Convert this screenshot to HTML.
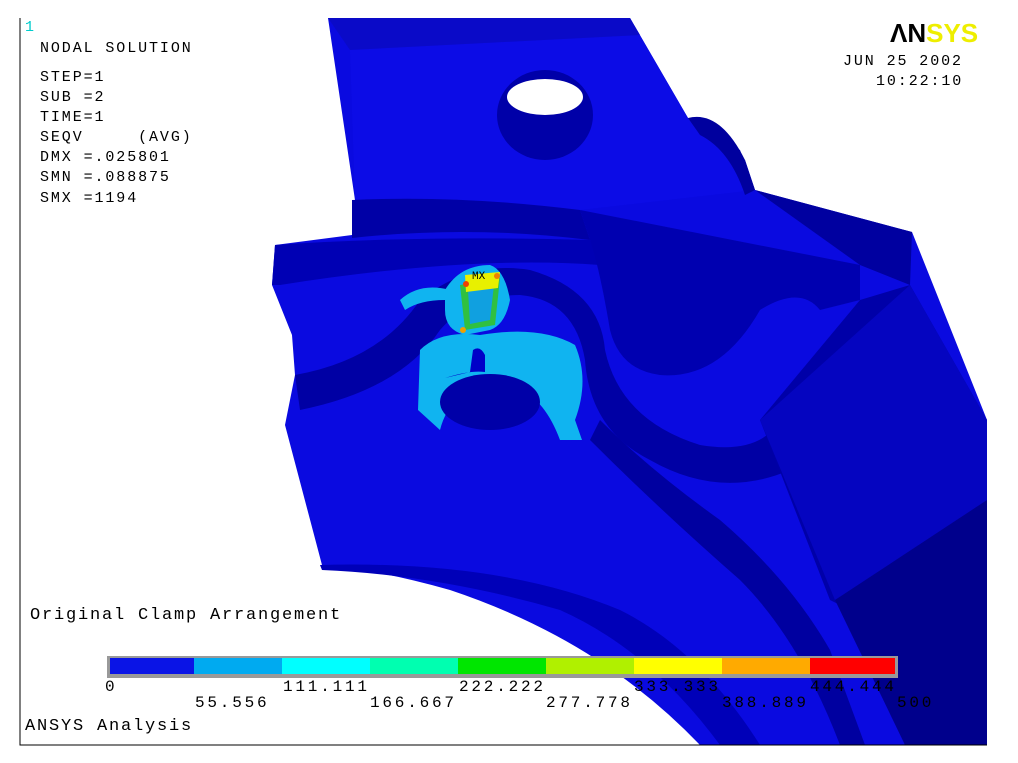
<!DOCTYPE html>
<html><head><meta charset="utf-8"><style>
body{margin:0;background:#fff;width:1018px;height:763px;overflow:hidden;position:relative;font-family:"Liberation Mono",monospace}
svg{position:absolute;left:0;top:0}
.t{position:absolute;font-size:15px;color:#000;white-space:pre;line-height:1;letter-spacing:1.9px}
.l{font-size:16px;letter-spacing:2.8px}
.b{font-size:17px;letter-spacing:1.8px}
</style></head><body>
<svg width="1018" height="763" viewBox="0 0 1018 763">
<rect x="0" y="0" width="1018" height="763" fill="#fff"/>
<path d="M328 18 L630 18 L688 118 L740 150 L755 190 L912 232 L987 420 L987 745 L700 745 Q600 640 450 590 Q380 570 322 565 L285 425 L295 375 L292 335 L272 285 L275 245 L352 235 L355 200 Z" fill="#0a0ae0"/>
<path d="M328 18 L630 18 L688 118 L700 125 L745 160 L755 190 L580 210 L355 200 L350 50 Z" fill="#0c0ce6"/>
<path d="M328 18 L630 18 L640 35 L350 50 Z" fill="#0a0ac8"/>
<ellipse cx="545" cy="115" rx="48" ry="45" fill="#0000a8"/>
<ellipse cx="545" cy="97" rx="38" ry="18" fill="#fff"/>
<path d="M688 118 Q720 110 745 160 L755 190 L745 195 Q730 150 700 135 Z" fill="#00009e"/>
<path d="M352 200 Q460 195 580 210 L590 240 Q470 225 352 238 Z" fill="#0000a6"/>
<path d="M272 285 L275 245 Q420 235 590 240 L600 265 Q470 255 280 285 Z" fill="#0000b4"/>
<path d="M295 375 Q380 360 420 300 Q470 260 530 270 Q600 290 605 350 Q620 420 700 445 Q760 455 780 420 Q790 395 820 370 L860 330 L870 360 L830 400 Q800 440 790 470 Q720 500 650 460 Q590 430 585 360 Q575 300 520 295 Q470 295 440 330 Q400 390 300 410 Z" fill="#0000a4"/>
<path d="M580 210 L860 265 L860 300 L820 310 Q800 285 760 310 Q720 380 660 375 Q620 370 610 330 Q600 270 590 240 Z" fill="#0000b0"/>
<path d="M755 190 L912 232 L910 285 L860 265 Z" fill="#0000a0"/>
<path d="M860 300 L910 285 L987 420 L987 745 L905 745 L850 610 L830 600 L760 420 Z" fill="#0000a8"/>
<path d="M760 420 L910 285 L987 420 L987 520 L835 600 Z" fill="#0505c0"/>
<path d="M835 600 L987 500 L987 745 L905 745 Z" fill="#00008c"/>
<path d="M600 420 Q650 470 720 520 Q790 580 830 650 L865 745 L840 745 Q800 640 740 580 Q660 510 590 440 Z" fill="#0000a0"/>
<path d="M320 565 Q500 560 620 610 Q700 650 760 745 L720 745 Q650 650 560 610 Q440 575 322 570 Z" fill="#0000b8"/>
<path d="M420 350 Q440 330 480 335 Q540 325 575 345 Q590 380 575 420 L582 440 L560 440 Q545 400 520 390 Q490 380 460 395 Q445 410 440 430 L418 410 Z" fill="#10b4f0"/>
<path d="M400 300 Q420 282 450 290 L445 300 Q420 300 405 310 Z" fill="#10b4f0"/>
<ellipse cx="490" cy="402" rx="50" ry="28" fill="#0000a8"/>
<path d="M445 378 Q470 370 485 372 L485 355 Q480 345 473 350 L470 372 Z" fill="#0000c8"/>
<path d="M445 290 Q460 265 490 265 Q505 270 510 300 Q505 325 490 330 L465 335 Q445 330 445 310 Z" fill="#10b4f0"/>
<path d="M460 285 L500 278 L495 325 L465 330 Z" fill="#30c040"/>
<path d="M468 290 L494 285 L490 320 L470 324 Z" fill="#10a0e0"/>
<path d="M465 275 L500 272 L498 288 L466 292 Z" fill="#e8f000"/>
<circle cx="466" cy="284" r="3" fill="#f04000"/><circle cx="497" cy="276" r="3" fill="#f08000"/><circle cx="463" cy="330" r="3" fill="#f0a000"/>
<text x="472" y="279" font-family="Liberation Mono" font-size="11">MX</text>
<path d="M20 18 V745 H987" fill="none" stroke="#000" stroke-width="1"/>
<rect x="107" y="656" width="791" height="22" fill="#999"/>
<rect x="110" y="658" width="84" height="16" fill="#0a14e6"/>
<rect x="194" y="658" width="88" height="16" fill="#00aaf0"/>
<rect x="282" y="658" width="88" height="16" fill="#00ffff"/>
<rect x="370" y="658" width="88" height="16" fill="#00ffb0"/>
<rect x="458" y="658" width="88" height="16" fill="#00e600"/>
<rect x="546" y="658" width="88" height="16" fill="#b0f000"/>
<rect x="634" y="658" width="88" height="16" fill="#ffff00"/>
<rect x="722" y="658" width="88" height="16" fill="#ffaa00"/>
<rect x="810" y="658" width="85" height="16" fill="#ff0000"/>
</svg>
<div class="t" style="left:25px;top:20px;color:#0cc">1</div>
<div class="t" style="left:40px;top:41px">NODAL SOLUTION</div>
<div class="t" style="left:40px;top:70px">STEP=1</div>
<div class="t" style="left:40px;top:90px">SUB =2</div>
<div class="t" style="left:40px;top:110px">TIME=1</div>
<div class="t" style="left:40px;top:130px">SEQV     (AVG)</div>
<div class="t" style="left:40px;top:150px">DMX =.025801</div>
<div class="t" style="left:40px;top:170px">SMN =.088875</div>
<div class="t" style="left:40px;top:191px">SMX =1194</div>
<div class="t" style="left:890px;top:20px;font-family:'Liberation Sans',sans-serif;font-weight:bold;font-size:26px;letter-spacing:0"><span>ΛN</span><span style="color:#ee0">SYS</span></div>
<div class="t" style="left:843px;top:54px">JUN 25 2002</div>
<div class="t" style="left:876px;top:74px">10:22:10</div>
<div class="t b" style="left:30px;top:607px">Original Clamp Arrangement</div>
<div class="t l" style="left:105px;top:679px">0</div>
<div class="t l" style="left:283px;top:679px">111.111</div>
<div class="t l" style="left:459px;top:679px">222.222</div>
<div class="t l" style="left:634px;top:679px">333.333</div>
<div class="t l" style="left:810px;top:679px">444.444</div>
<div class="t l" style="left:195px;top:695px">55.556</div>
<div class="t l" style="left:370px;top:695px">166.667</div>
<div class="t l" style="left:546px;top:695px">277.778</div>
<div class="t l" style="left:722px;top:695px">388.889</div>
<div class="t l" style="left:897px;top:695px">500</div>
<div class="t b" style="left:25px;top:718px">ANSYS Analysis</div>
</body></html>
